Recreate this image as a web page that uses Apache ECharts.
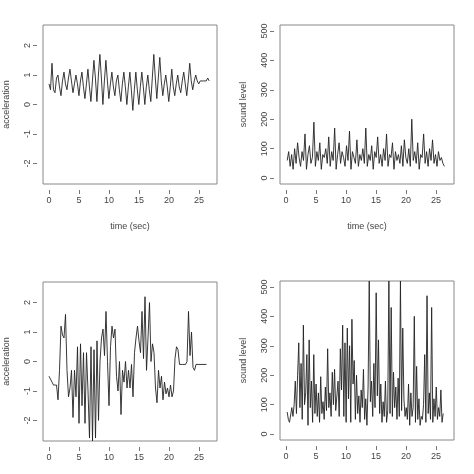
<!DOCTYPE html>
<html>
<head>
<meta charset="utf-8">
<script src="https://cdn.jsdelivr.net/npm/echarts@6/dist/echarts.min.js"></script>
<style>html,body{margin:0;padding:0;background:#fff}#main{width:474px;height:474px}</style>
</head>
<body>
<div id="main"></div>
<script>
// sample timing for each recording
var accTopStart = 0, accTopEnd = 26.7;
var sndTopStart = 0.2, sndTopEnd = 26.4;
var accBotStart = 0, accBotEnd = 26.25;
var sndBotStart = 0.2, sndBotEnd = 26.2;

var accTop = [0.7,0.5,1.4,0.5, 0.4,0.9,1.0,0.6, 0.3,0.8,1.1,0.7, 0.5,0.9,1.2,0.8, 0.4,0.7,1.0,0.7, 0.3,0.8,1.1,0.6, 0.2,0.7,1.2,0.6, 0.1,0.8,1.5,0.9, 0.1,1.0,1.7,0.9, 0.0,0.8,1.5,0.8, 0.2,0.7,1.1,0.6, 0.3,0.8,1.0,0.5, 0.1,0.7,1.1,0.6, 0.0,0.6,1.1,0.5, -0.2,0.5,1.1,0.5, 0.0,0.6,1.1,0.6, 0.0,0.6,1.0,0.5, 0.1,0.9,1.7,0.9, 0.2,0.9,1.6,0.8, 0.3,0.7,1.0,0.6, 0.1,0.6,1.2,0.6, 0.3,0.7,1.0,0.6, 0.4,0.8,1.1,0.7, 0.3,0.8,1.4,0.8, 0.5,0.8,1.0,0.8, 0.7,0.8,0.8,0.8, 0.8,0.8,0.9,0.8];
var sndTop = [60,90,40,80,30,100,50,120,70,40,90,60,150,30,80,110,50,70,190,40,90,60,120,30,80,70,100,50,140,40,90,60,170,30,80,120,50,90,70,40,110,60,160,30,90,70,50,130,40,80,60,100,50,170,40,80,60,110,30,90,70,140,50,80,40,100,60,150,40,80,70,120,30,90,60,80,50,110,40,130,70,50,100,40,200,60,90,50,120,30,80,70,150,50,90,40,100,60,130,50,80,40,90,60,70,50,40];
var accBot = [-0.5,-0.6,-0.7,-0.8,-0.8,-0.8,-1.3,-0.3,1.2,0.9,0.8,1.6,-0.3,-1.2,-0.9,-0.3,-1.9,-0.3,-1.2,0.5,-2.1,0.6,-1.5,0.3,-2.1,0.3,-1.0,-2.6,0.5,-2.7,0.4,-2.6,0.7,-2.0,0.0,0.8,1.1,0.2,1.7,0.0,-1.5,0.5,1.2,0.8,1.1,-0.5,-1.0,0.0,-1.8,-0.3,-0.7,0.0,-0.9,-0.3,-0.9,-0.1,-1.2,0.3,0.8,1.2,0.7,0.3,1.7,0.1,2.2,-0.3,0.8,2.0,0.0,0.6,0.3,-0.9,-1.4,-0.3,-0.9,-0.5,-1.3,-0.7,-1.1,-0.9,-1.2,-0.8,-1.2,-1.0,0.1,0.5,0.4,-0.1,-0.1,-0.1,-0.1,-0.1,0.0,1.7,0.2,1.0,-0.2,-0.3,-0.1,-0.1,-0.1,-0.1,-0.1,-0.1,-0.1,-0.1];
var sndBot = [75,50,40,45,90,60,100,180,70,200,310,90,240,50,370,100,140,270,30,320,90,180,40,270,70,170,60,140,40,195,70,110,50,160,80,290,90,140,60,210,100,220,80,130,180,60,290,150,370,60,310,40,360,120,300,40,390,170,250,50,200,70,130,40,150,90,220,50,120,30,160,520,110,180,60,240,90,480,130,320,70,170,40,110,60,180,40,80,520,70,430,60,210,90,160,50,190,60,520,80,360,120,60,90,50,170,30,140,60,90,400,40,230,50,120,30,60,50,100,270,40,470,70,140,50,430,40,120,60,160,50,90,60,150,40,70];

var timeTicks = [0,5,10,15,20,25];
var accTicks = [-2,-1,0,1,2];
var sndTicks = [0,100,200,300,400,500];

function pairs(vals, t0, t1) {
  var step = (t1 - t0) / (vals.length - 1);
  return vals.map(function (v, i) { return [t0 + i * step, v]; });
}

var myChart = echarts.init(document.getElementById('main'));
var grids = [
  {left: 43, top: 25, width: 174, height: 159},
  {left: 280, top: 25, width: 174, height: 159},
  {left: 43, top: 282, width: 174, height: 159},
  {left: 280, top: 281, width: 174, height: 159}
];
var lab = {color: '#444', fontSize: 9, fontFamily: 'Liberation Sans'};

function xAx(i, name) {
  return {
    gridIndex: i, type: 'value', min: -1, max: 28, offset: 6,
    name: name, nameLocation: 'middle', nameGap: 32,
    nameTextStyle: {color: '#444', fontSize: 9, fontFamily: 'Liberation Sans'},
    axisLine: {show: false, onZero: false},
    axisTick: {show: true, length: 4, lineStyle: {color: '#777'}, customValues: timeTicks},
    axisLabel: Object.assign({customValues: timeTicks, margin: 6}, lab),
    splitLine: {show: false}
  };
}
function yAx(i, name, min, max, ticks) {
  return {
    gridIndex: i, type: 'value', min: min, max: max, offset: 6,
    name: name, nameLocation: 'middle', nameGap: 26, nameRotate: 90,
    nameTextStyle: {color: '#444', fontSize: 9, fontFamily: 'Liberation Sans'},
    axisLine: {show: false, onZero: false},
    axisTick: {show: true, length: 4, lineStyle: {color: '#777'}, customValues: ticks},
    axisLabel: Object.assign({customValues: ticks, rotate: 90, margin: 5}, lab),
    splitLine: {show: false}
  };
}
function line(i, vals, t0, t1) {
  return {
    type: 'line', xAxisIndex: i, yAxisIndex: i, data: pairs(vals, t0, t1),
    showSymbol: false, lineStyle: {color: '#222', width: 0.9}, clip: true, animation: false
  };
}

var option = {
  backgroundColor: '#fff',
  grid: grids.map(function (g) { return Object.assign({show: true, borderColor: '#888', borderWidth: 1}, g); }),
  xAxis: [xAx(0, 'time (sec)'), xAx(1, 'time (sec)'), xAx(2, ''), xAx(3, '')],
  yAxis: [
    yAx(0, 'acceleration', -2.7, 2.7, accTicks),
    yAx(1, 'sound level', -20, 520, sndTicks),
    yAx(2, 'acceleration', -2.7, 2.7, accTicks),
    yAx(3, 'sound level', -20, 520, sndTicks)
  ],
  series: [
    line(0, accTop, accTopStart, accTopEnd),
    line(1, sndTop, sndTopStart, sndTopEnd),
    line(2, accBot, accBotStart, accBotEnd),
    line(3, sndBot, sndBotStart, sndBotEnd)
  ]
};
myChart.setOption(option);
</script>
</body>
</html>
